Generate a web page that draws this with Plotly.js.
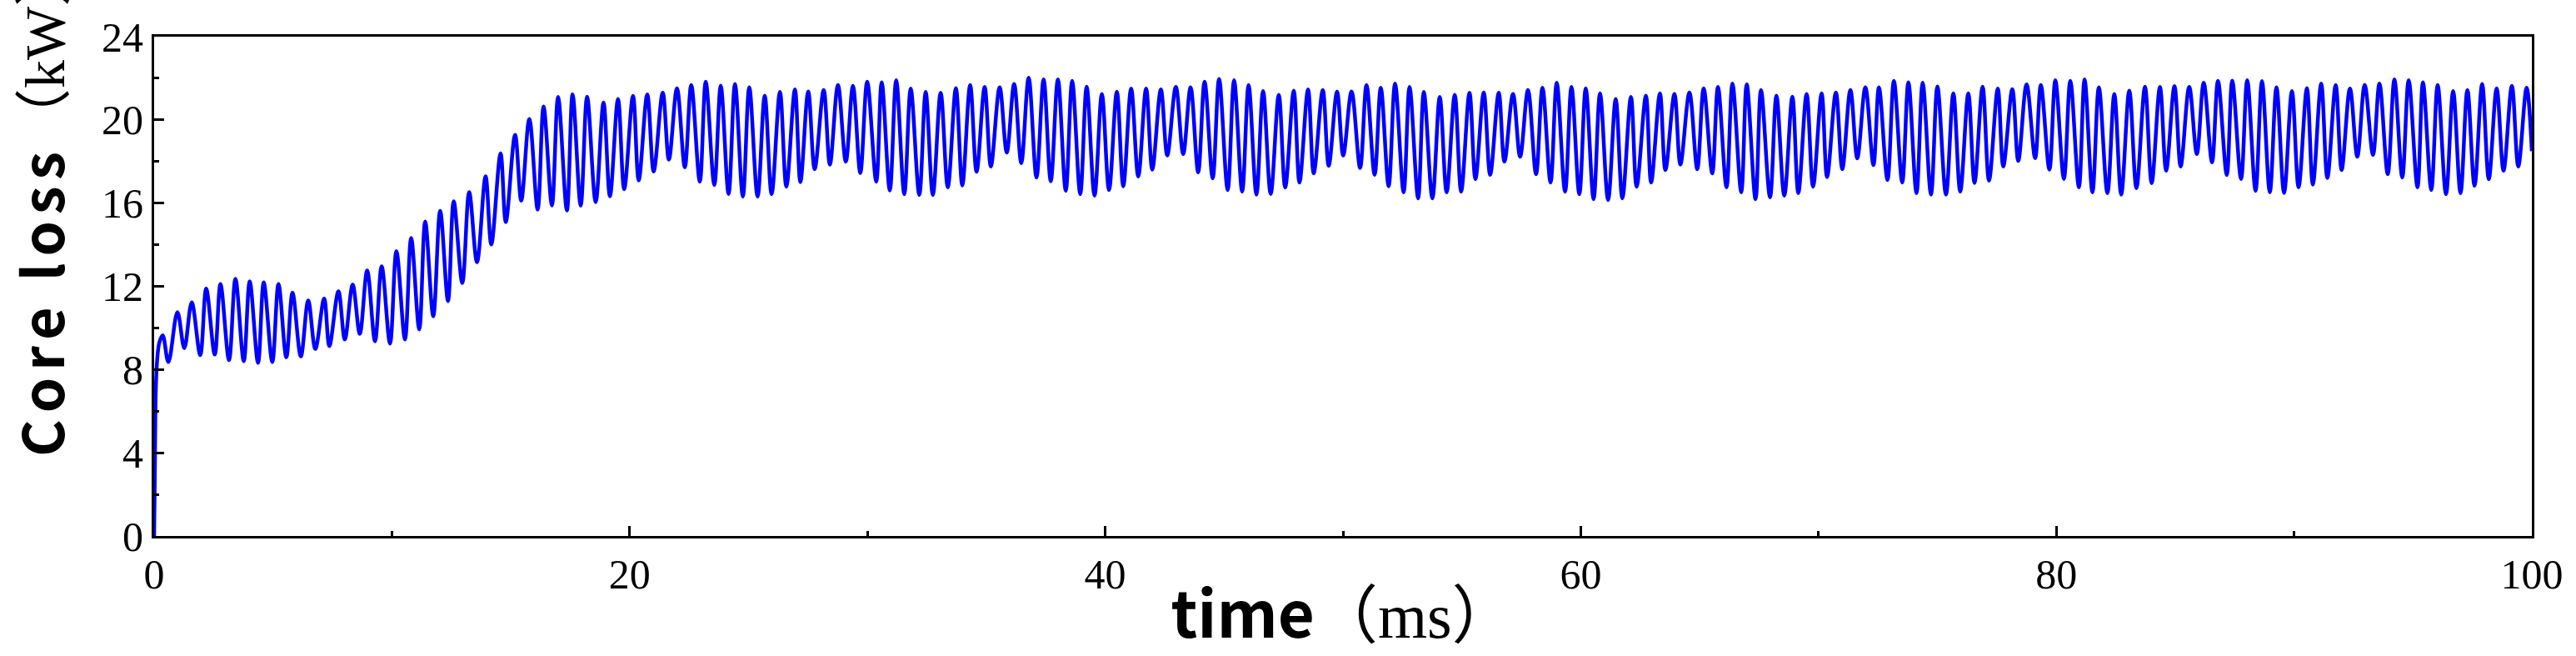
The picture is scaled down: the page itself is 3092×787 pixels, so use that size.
<!DOCTYPE html>
<html>
<head>
<meta charset="utf-8">
<script src="https://cdn.plot.ly/plotly-3.0.1.min.js"></script>
<style>html,body{margin:0;padding:0;background:#fff;}#chart{width:3092px;height:787px;}</style>
</head>
<body>
<div id="chart"></div>
<script>
// time (ms): start-up points, then alternating peaks and troughs
const time_ms = [
0,0.03,0.07,0.13,0.22,0.36,0.60,0.98,1.27,1.58,1.94,2.19,2.55,2.79,3.15,3.42,3.77,4.02,4.37,4.61,4.97,
5.23,5.56,5.82,6.17,6.48,6.78,7.15,7.37,7.75,8.02,8.35,8.65,8.96,9.29,9.57,9.92,10.19,10.55,10.81,11.15,
11.40,11.74,12.03,12.36,12.60,12.96,13.25,13.58,13.94,14.18,14.57,14.79,15.18,15.44,15.78,16.13,16.38,16.73,
16.99,17.36,17.60,17.94,18.21,18.57,18.90,19.17,19.51,19.77,20.14,20.38,20.74,21.01,21.39,21.65,21.99,22.32,
22.59,22.95,23.20,23.56,23.83,24.16,24.43,24.76,25.03,25.38,25.68,25.97,26.32,26.59,26.95,27.18,27.51,27.78,
28.16,28.42,28.76,29.09,29.39,29.70,29.99,30.37,30.60,30.94,31.21,31.55,31.82,32.18,32.45,32.75,33.08,33.38,
33.72,33.99,34.32,34.59,34.93,35.19,35.56,35.86,36.17,36.47,36.78,37.11,37.41,37.71,38.01,38.34,38.61,38.95,
39.22,39.55,39.86,40.16,40.49,40.76,41.09,41.39,41.72,41.98,42.34,42.61,42.97,43.28,43.59,43.91,44.18,44.52,
44.79,45.15,45.42,45.76,46.03,46.36,46.64,46.96,47.30,47.57,47.93,48.17,48.53,48.77,49.15,49.40,49.75,50.01,
50.36,50.72,50.99,51.33,51.59,51.92,52.19,52.55,52.80,53.16,53.40,53.76,54.07,54.36,54.70,54.97,55.32,55.57,
55.92,56.19,56.55,56.79,57.15,57.45,57.78,58.12,58.39,58.73,58.99,59.34,59.61,59.94,60.21,60.54,60.81,61.15,
61.47,61.75,62.11,62.35,62.74,62.96,63.33,63.56,63.94,64.19,64.57,64.90,65.17,65.53,65.77,66.13,66.38,66.75,
66.98,67.35,67.58,67.96,68.23,68.56,68.90,69.15,69.50,69.77,70.13,70.36,70.73,71.00,71.34,71.63,71.97,72.31,
72.54,72.90,73.17,73.52,73.78,74.12,74.38,74.73,75.00,75.36,75.67,75.96,76.30,76.56,76.90,77.17,77.54,77.77,
78.15,78.40,78.75,79.11,79.35,79.71,79.96,80.32,80.59,80.95,81.19,81.52,81.79,82.15,82.44,82.73,83.07,83.37,
83.73,84.01,84.36,84.62,84.97,85.23,85.59,85.91,86.20,86.55,86.80,87.17,87.40,87.77,88.03,88.38,88.65,88.98,
89.26,89.58,89.91,90.19,90.54,90.79,91.14,91.40,91.75,92.00,92.35,92.66,92.97,93.32,93.59,93.94,94.22,94.55,
94.82,95.19,95.42,95.77,96.04,96.39,96.69,97.00,97.29,97.59,97.91,98.19,98.52,98.81,99.16,99.43,99.78,100.00
];
// core loss (kW) at those instants
const core_loss_kW = [
0,3.0,7.0,8.5,9.3,9.65,8.36,10.76,9.03,11.23,8.69,11.89,8.72,12.11,8.45,12.36,8.40,12.24,8.32,12.19,8.36,
12.11,8.59,11.69,8.63,11.32,8.99,11.41,9.13,11.76,9.45,12.08,9.72,12.76,9.36,12.96,9.25,13.69,9.45,14.32,9.93,
15.12,10.56,15.63,11.29,16.09,12.16,16.53,13.16,17.29,14.01,18.39,15.09,19.28,16.12,20.04,15.69,20.64,15.89,
21.11,15.65,21.23,15.88,21.12,16.05,20.83,16.33,21.01,16.67,21.16,17.09,21.23,17.52,21.31,18.09,21.52,17.72,
21.68,17.03,21.84,16.87,21.65,16.44,21.73,16.31,21.57,16.31,21.17,16.43,21.35,16.79,21.47,17.01,21.37,17.63,
21.44,17.85,21.68,17.99,21.64,17.45,21.84,17.03,21.81,16.61,21.91,16.43,21.51,16.39,21.35,16.39,21.31,16.76,
21.53,16.85,21.68,17.51,21.59,17.76,21.57,18.43,21.73,17.92,22.03,17.23,21.95,17.05,21.95,16.59,21.88,16.43,
21.60,16.36,21.25,16.63,21.36,16.81,21.51,17.28,21.51,17.61,21.47,18.29,21.59,18.36,21.57,17.48,21.84,17.19,
21.97,16.63,21.91,16.55,21.68,16.41,21.39,16.44,21.21,16.75,21.41,16.99,21.47,17.43,21.44,17.79,21.36,18.29,
21.37,17.69,21.68,17.36,21.55,16.81,21.75,16.52,21.59,16.23,21.35,16.23,21.11,16.52,21.21,16.55,21.31,17.16,
21.32,17.36,21.31,17.99,21.25,18.23,21.44,17.39,21.55,16.99,21.79,16.55,21.59,16.43,21.52,16.19,21.28,16.15,
21.01,16.23,21.11,16.79,21.17,16.99,21.28,17.59,21.25,17.85,21.32,17.63,21.52,17.43,21.59,16.76,21.75,16.52,
21.71,16.19,21.44,16.28,21.17,16.36,21.12,16.48,21.25,16.79,21.28,17.25,21.32,17.63,21.44,18.15,21.57,17.83,
21.57,17.11,21.88,16.99,21.81,16.48,21.79,16.41,21.61,16.41,21.28,16.55,21.28,16.97,21.60,17.08,21.51,17.76,
21.48,18.03,21.71,18.16,21.68,17.61,21.91,17.16,21.88,16.76,21.95,16.52,21.57,16.48,21.25,16.41,21.41,16.72,
21.60,16.96,21.59,17.56,21.63,17.76,21.59,18.36,21.79,17.96,21.88,17.35,21.89,17.16,21.91,16.59,21.87,16.52,
21.57,16.49,21.39,16.76,21.53,16.89,21.75,17.21,21.68,17.59,21.51,18.23,21.68,18.32,21.75,17.39,21.95,17.23,
21.91,16.76,21.81,16.63,21.68,16.43,21.39,16.48,21.44,16.83,21.73,17.15,21.52,17.56,21.64,17.76,21.55,18.5
];
const x_ticks = [0, 20, 40, 60, 80, 100];
const y_ticks = [0, 4, 8, 12, 16, 20, 24];

const serif = "Liberation Serif, Times New Roman, serif";
const cjk = "Noto Sans CJK SC";

const trace = {
  x: time_ms, y: core_loss_kW, type: 'scatter', mode: 'lines',
  line: {color: '#0000ff', width: 4.5, shape: 'spline', smoothing: 1},
  hoverinfo: 'skip', showlegend: false
};

const axisCommon = {
  showline: true, linecolor: '#000', linewidth: 3, mirror: true,
  ticks: 'inside', ticklen: 12, tickwidth: 3, tickcolor: '#000',
  showgrid: false, zeroline: false,
  tickfont: {family: serif, size: 50, color: '#000'}
};

const yTitle = '<span style="letter-spacing:8px">Core loss</span><span style="font-weight:normal;font-family:Noto Sans CJK SC">（</span><span style="font-weight:normal;font-family:Liberation Serif">kW</span><span style="font-weight:normal;font-family:Noto Sans CJK SC">）</span>';

const layout = {
  width: 3092, height: 787,
  margin: {l: 185, r: 53, t: 44, b: 144},
  paper_bgcolor: '#fff', plot_bgcolor: '#fff',
  xaxis: Object.assign({}, axisCommon, {
    range: [0, 100], tickvals: x_ticks, ticktext: x_ticks.map(String),
    minor: {dtick: 10, ticks: 'inside', ticklen: 6, tickwidth: 3, tickcolor: '#000'},
    title: {
      text: 'time<span style="font-weight:normal;font-family:Noto Sans CJK SC">（</span><span style="font-weight:normal;font-family:Liberation Serif">ms</span><span style="font-weight:normal;font-family:Noto Sans CJK SC">）</span>',
      font: {family: cjk, size: 76, weight: 700, color: '#000'},
      standoff: 2
    }
  }),
  yaxis: Object.assign({}, axisCommon, {
    range: [0, 24], tickvals: y_ticks, ticktext: y_ticks.map(String),
    minor: {dtick: 2, ticks: 'inside', ticklen: 6, tickwidth: 3, tickcolor: '#000'}
  }),
  annotations: [{
    text: yTitle, textangle: -90, showarrow: false,
    xref: 'paper', yref: 'paper', x: -0.048, y: 0.546, yshift: 72,
    xanchor: 'center', yanchor: 'middle',
    font: {family: cjk, size: 68, weight: 700, color: '#000'}
  }]
};

Plotly.newPlot('chart', [trace], layout, {staticPlot: true, displayModeBar: false});
</script>
</body>
</html>
